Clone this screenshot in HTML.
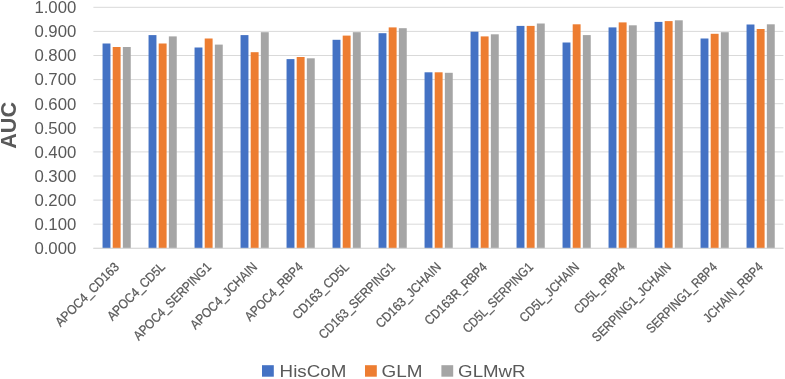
<!DOCTYPE html>
<html><head><meta charset="utf-8"><title>AUC chart</title>
<style>html,body{margin:0;padding:0;background:#fff}svg{display:block}</style></head>
<body>
<svg width="785" height="379" viewBox="0 0 785 379" font-family="'Liberation Sans', sans-serif">
<rect width="785" height="379" fill="#fff"/>
<g stroke="#D9D9D9" stroke-width="1">
<line x1="93.4" x2="783.4" y1="7.30" y2="7.30"/>
<line x1="93.4" x2="783.4" y1="31.40" y2="31.40"/>
<line x1="93.4" x2="783.4" y1="55.50" y2="55.50"/>
<line x1="93.4" x2="783.4" y1="79.60" y2="79.60"/>
<line x1="93.4" x2="783.4" y1="103.70" y2="103.70"/>
<line x1="93.4" x2="783.4" y1="127.80" y2="127.80"/>
<line x1="93.4" x2="783.4" y1="151.90" y2="151.90"/>
<line x1="93.4" x2="783.4" y1="176.00" y2="176.00"/>
<line x1="93.4" x2="783.4" y1="200.10" y2="200.10"/>
<line x1="93.4" x2="783.4" y1="224.20" y2="224.20"/>
<line x1="93.4" x2="783.4" y1="248.30" y2="248.30"/>
</g>
<g fill="#595959" font-size="16.2" text-anchor="end">
<text x="76.3" y="13.10" textLength="41.9" lengthAdjust="spacingAndGlyphs">1.000</text>
<text x="76.3" y="37.20" textLength="41.9" lengthAdjust="spacingAndGlyphs">0.900</text>
<text x="76.3" y="61.30" textLength="41.9" lengthAdjust="spacingAndGlyphs">0.800</text>
<text x="76.3" y="85.40" textLength="41.9" lengthAdjust="spacingAndGlyphs">0.700</text>
<text x="76.3" y="109.50" textLength="41.9" lengthAdjust="spacingAndGlyphs">0.600</text>
<text x="76.3" y="133.60" textLength="41.9" lengthAdjust="spacingAndGlyphs">0.500</text>
<text x="76.3" y="157.70" textLength="41.9" lengthAdjust="spacingAndGlyphs">0.400</text>
<text x="76.3" y="181.80" textLength="41.9" lengthAdjust="spacingAndGlyphs">0.300</text>
<text x="76.3" y="205.90" textLength="41.9" lengthAdjust="spacingAndGlyphs">0.200</text>
<text x="76.3" y="230.00" textLength="41.9" lengthAdjust="spacingAndGlyphs">0.100</text>
<text x="76.3" y="254.10" textLength="41.9" lengthAdjust="spacingAndGlyphs">0.000</text>
</g>
<text transform="translate(16.4,125.3) rotate(-90)" text-anchor="middle" font-size="21.8" font-weight="bold" fill="#595959" textLength="47" lengthAdjust="spacingAndGlyphs">AUC</text>
<rect x="102.55" y="43.50" width="7.9" height="204.80" fill="#4472C4"/>
<rect x="112.70" y="47.00" width="7.9" height="201.30" fill="#ED7D31"/>
<rect x="122.85" y="47.00" width="7.9" height="201.30" fill="#A5A5A5"/>
<rect x="148.55" y="35.10" width="7.9" height="213.20" fill="#4472C4"/>
<rect x="158.70" y="43.50" width="7.9" height="204.80" fill="#ED7D31"/>
<rect x="168.85" y="36.40" width="7.9" height="211.90" fill="#A5A5A5"/>
<rect x="194.55" y="47.50" width="7.9" height="200.80" fill="#4472C4"/>
<rect x="204.70" y="38.50" width="7.9" height="209.80" fill="#ED7D31"/>
<rect x="214.85" y="44.60" width="7.9" height="203.70" fill="#A5A5A5"/>
<rect x="240.55" y="35.10" width="7.9" height="213.20" fill="#4472C4"/>
<rect x="250.70" y="52.20" width="7.9" height="196.10" fill="#ED7D31"/>
<rect x="260.85" y="32.20" width="7.9" height="216.10" fill="#A5A5A5"/>
<rect x="286.55" y="59.10" width="7.9" height="189.20" fill="#4472C4"/>
<rect x="296.70" y="57.00" width="7.9" height="191.30" fill="#ED7D31"/>
<rect x="306.85" y="58.30" width="7.9" height="190.00" fill="#A5A5A5"/>
<rect x="332.55" y="39.80" width="7.9" height="208.50" fill="#4472C4"/>
<rect x="342.70" y="35.60" width="7.9" height="212.70" fill="#ED7D31"/>
<rect x="352.85" y="32.20" width="7.9" height="216.10" fill="#A5A5A5"/>
<rect x="378.55" y="33.20" width="7.9" height="215.10" fill="#4472C4"/>
<rect x="388.70" y="27.40" width="7.9" height="220.90" fill="#ED7D31"/>
<rect x="398.85" y="28.20" width="7.9" height="220.10" fill="#A5A5A5"/>
<rect x="424.55" y="72.30" width="7.9" height="176.00" fill="#4472C4"/>
<rect x="434.70" y="72.30" width="7.9" height="176.00" fill="#ED7D31"/>
<rect x="444.85" y="72.80" width="7.9" height="175.50" fill="#A5A5A5"/>
<rect x="470.55" y="31.70" width="7.9" height="216.60" fill="#4472C4"/>
<rect x="480.70" y="36.40" width="7.9" height="211.90" fill="#ED7D31"/>
<rect x="490.85" y="34.30" width="7.9" height="214.00" fill="#A5A5A5"/>
<rect x="516.55" y="25.90" width="7.9" height="222.40" fill="#4472C4"/>
<rect x="526.70" y="25.90" width="7.9" height="222.40" fill="#ED7D31"/>
<rect x="536.85" y="23.50" width="7.9" height="224.80" fill="#A5A5A5"/>
<rect x="562.55" y="42.50" width="7.9" height="205.80" fill="#4472C4"/>
<rect x="572.70" y="24.30" width="7.9" height="224.00" fill="#ED7D31"/>
<rect x="582.85" y="35.10" width="7.9" height="213.20" fill="#A5A5A5"/>
<rect x="608.55" y="27.40" width="7.9" height="220.90" fill="#4472C4"/>
<rect x="618.70" y="22.40" width="7.9" height="225.90" fill="#ED7D31"/>
<rect x="628.85" y="25.30" width="7.9" height="223.00" fill="#A5A5A5"/>
<rect x="654.55" y="21.90" width="7.9" height="226.40" fill="#4472C4"/>
<rect x="664.70" y="21.10" width="7.9" height="227.20" fill="#ED7D31"/>
<rect x="674.85" y="20.30" width="7.9" height="228.00" fill="#A5A5A5"/>
<rect x="700.55" y="38.50" width="7.9" height="209.80" fill="#4472C4"/>
<rect x="710.70" y="33.80" width="7.9" height="214.50" fill="#ED7D31"/>
<rect x="720.85" y="32.20" width="7.9" height="216.10" fill="#A5A5A5"/>
<rect x="746.55" y="24.50" width="7.9" height="223.80" fill="#4472C4"/>
<rect x="756.70" y="29.00" width="7.9" height="219.30" fill="#ED7D31"/>
<rect x="766.85" y="24.30" width="7.9" height="224.00" fill="#A5A5A5"/>
<line x1="93.4" x2="783.4" y1="248.3" y2="248.3" stroke="#D9D9D9" stroke-width="1"/>
<g fill="#595959" font-size="13.1" text-anchor="end" stroke="#595959" stroke-width="0.25">
<text transform="translate(119.90,267.8) rotate(-45)" textLength="84.1" lengthAdjust="spacingAndGlyphs">APOC4_CD163</text>
<text transform="translate(165.90,267.8) rotate(-45)" textLength="75.7" lengthAdjust="spacingAndGlyphs">APOC4_CD5L</text>
<text transform="translate(211.90,267.8) rotate(-45)" textLength="103.5" lengthAdjust="spacingAndGlyphs">APOC4_SERPING1</text>
<text transform="translate(257.90,267.8) rotate(-45)" textLength="88.1" lengthAdjust="spacingAndGlyphs">APOC4_JCHAIN</text>
<text transform="translate(303.90,267.8) rotate(-45)" textLength="76.2" lengthAdjust="spacingAndGlyphs">APOC4_RBP4</text>
<text transform="translate(349.90,267.8) rotate(-45)" textLength="73.9" lengthAdjust="spacingAndGlyphs">CD163_CD5L</text>
<text transform="translate(395.90,267.8) rotate(-45)" textLength="101.7" lengthAdjust="spacingAndGlyphs">CD163_SERPING1</text>
<text transform="translate(441.90,267.8) rotate(-45)" textLength="86.3" lengthAdjust="spacingAndGlyphs">CD163_JCHAIN</text>
<text transform="translate(487.90,267.8) rotate(-45)" textLength="82.1" lengthAdjust="spacingAndGlyphs">CD163R_RBP4</text>
<text transform="translate(533.90,267.8) rotate(-45)" textLength="93.3" lengthAdjust="spacingAndGlyphs">CD5L_SERPING1</text>
<text transform="translate(579.90,267.8) rotate(-45)" textLength="77.9" lengthAdjust="spacingAndGlyphs">CD5L_JCHAIN</text>
<text transform="translate(625.90,267.8) rotate(-45)" textLength="66.0" lengthAdjust="spacingAndGlyphs">CD5L_RBP4</text>
<text transform="translate(671.90,267.8) rotate(-45)" textLength="105.6" lengthAdjust="spacingAndGlyphs">SERPING1_JCHAIN</text>
<text transform="translate(717.90,267.8) rotate(-45)" textLength="93.8" lengthAdjust="spacingAndGlyphs">SERPING1_RBP4</text>
<text transform="translate(763.90,267.8) rotate(-45)" textLength="78.4" lengthAdjust="spacingAndGlyphs">JCHAIN_RBP4</text>
</g>
<g font-size="17" fill="#595959">
<rect x="262" y="365.2" width="11.8" height="11.5" fill="#4472C4"/>
<text x="279.6" y="376.7" textLength="66.7" lengthAdjust="spacingAndGlyphs">HisCoM</text>
<rect x="365" y="365.2" width="11.8" height="11.5" fill="#ED7D31"/>
<text x="381.5" y="376.7" textLength="40.9" lengthAdjust="spacingAndGlyphs">GLM</text>
<rect x="441.4" y="365.2" width="11.8" height="11.5" fill="#A5A5A5"/>
<text x="458.1" y="376.7" textLength="67.5" lengthAdjust="spacingAndGlyphs">GLMwR</text>
</g>
</svg>
</body></html>
